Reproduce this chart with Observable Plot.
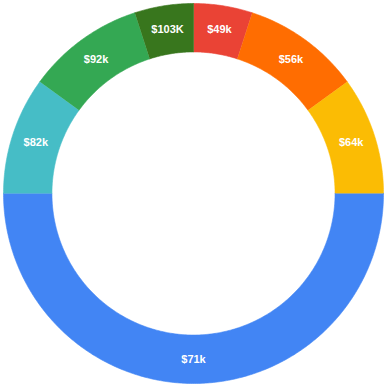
<!DOCTYPE html>
<html>
<head>
<meta charset="utf-8">
<script src="https://cdn.jsdelivr.net/npm/d3@7"></script>
<script src="https://cdn.jsdelivr.net/npm/@observablehq/plot@0.6"></script>
<style>
  html, body { margin: 0; padding: 0; background: #fff; }
</style>
</head>
<body>
<div id="chart"></div>
<script>
// Slices, clockwise from 12 o'clock
const labels = ["$49k", "$56k", "$64k", "$71k", "$82k", "$92k", "$103K"];
const shares = [5, 10, 10, 50, 10, 10, 5];
const colors = ["#ea4335", "#ff6d01", "#fbbc04", "#4285f4", "#46bdc6", "#34a853", "#38761d"];

const W = 387, H = 386;
const cx = 193, cy = 193, R = 190;   // layout (pixels)
const innerRatio = 0.745;

const pie = d3.pie().sort(null).value(d => d.share).startAngle(0).endAngle(2 * Math.PI);
const arcs = pie(labels.map((label, i) => ({label, share: shares[i], color: colors[i]})));

// Build polygon outlines for each slice in unit-radius data space
const poly = [];
arcs.forEach(a => {
  const n = Math.max(8, Math.ceil((a.endAngle - a.startAngle) / 0.01));
  for (let k = 0; k <= n; k++) {
    const t = a.startAngle + (a.endAngle - a.startAngle) * k / n;
    poly.push({label: a.data.label, color: a.data.color, x: Math.sin(t), y: Math.cos(t)});
  }
  for (let k = n; k >= 0; k--) {
    const t = a.startAngle + (a.endAngle - a.startAngle) * k / n;
    poly.push({label: a.data.label, color: a.data.color, x: innerRatio * Math.sin(t), y: innerRatio * Math.cos(t)});
  }
});

const mid = (1 + innerRatio) / 2;
const labelPts = arcs.map(a => {
  const t = (a.startAngle + a.endAngle) / 2;
  return {label: a.data.label, x: mid * Math.sin(t), y: mid * Math.cos(t)};
});

const chart = Plot.plot({
  width: W,
  height: H,
  margin: 0,
  x: {domain: [-cx / R, (W - cx) / R], axis: null},
  y: {domain: [-(H - cy) / R, cy / R], axis: null},
  style: {background: "#fff"},
  marks: [
    Plot.line(poly, {x: "x", y: "y", z: "label", fill: "color", stroke: "color", strokeWidth: 0.6, curve: "linear"}),
    Plot.text(labelPts, {
      x: "x", y: "y", text: "label",
      fill: "#fff", fontSize: 11, fontWeight: "bold",
      fontFamily: "'Liberation Sans', Arial, sans-serif",
      textAnchor: "middle", lineAnchor: "middle"
    })
  ]
});
document.getElementById("chart").appendChild(chart);
</script>
</body>
</html>
